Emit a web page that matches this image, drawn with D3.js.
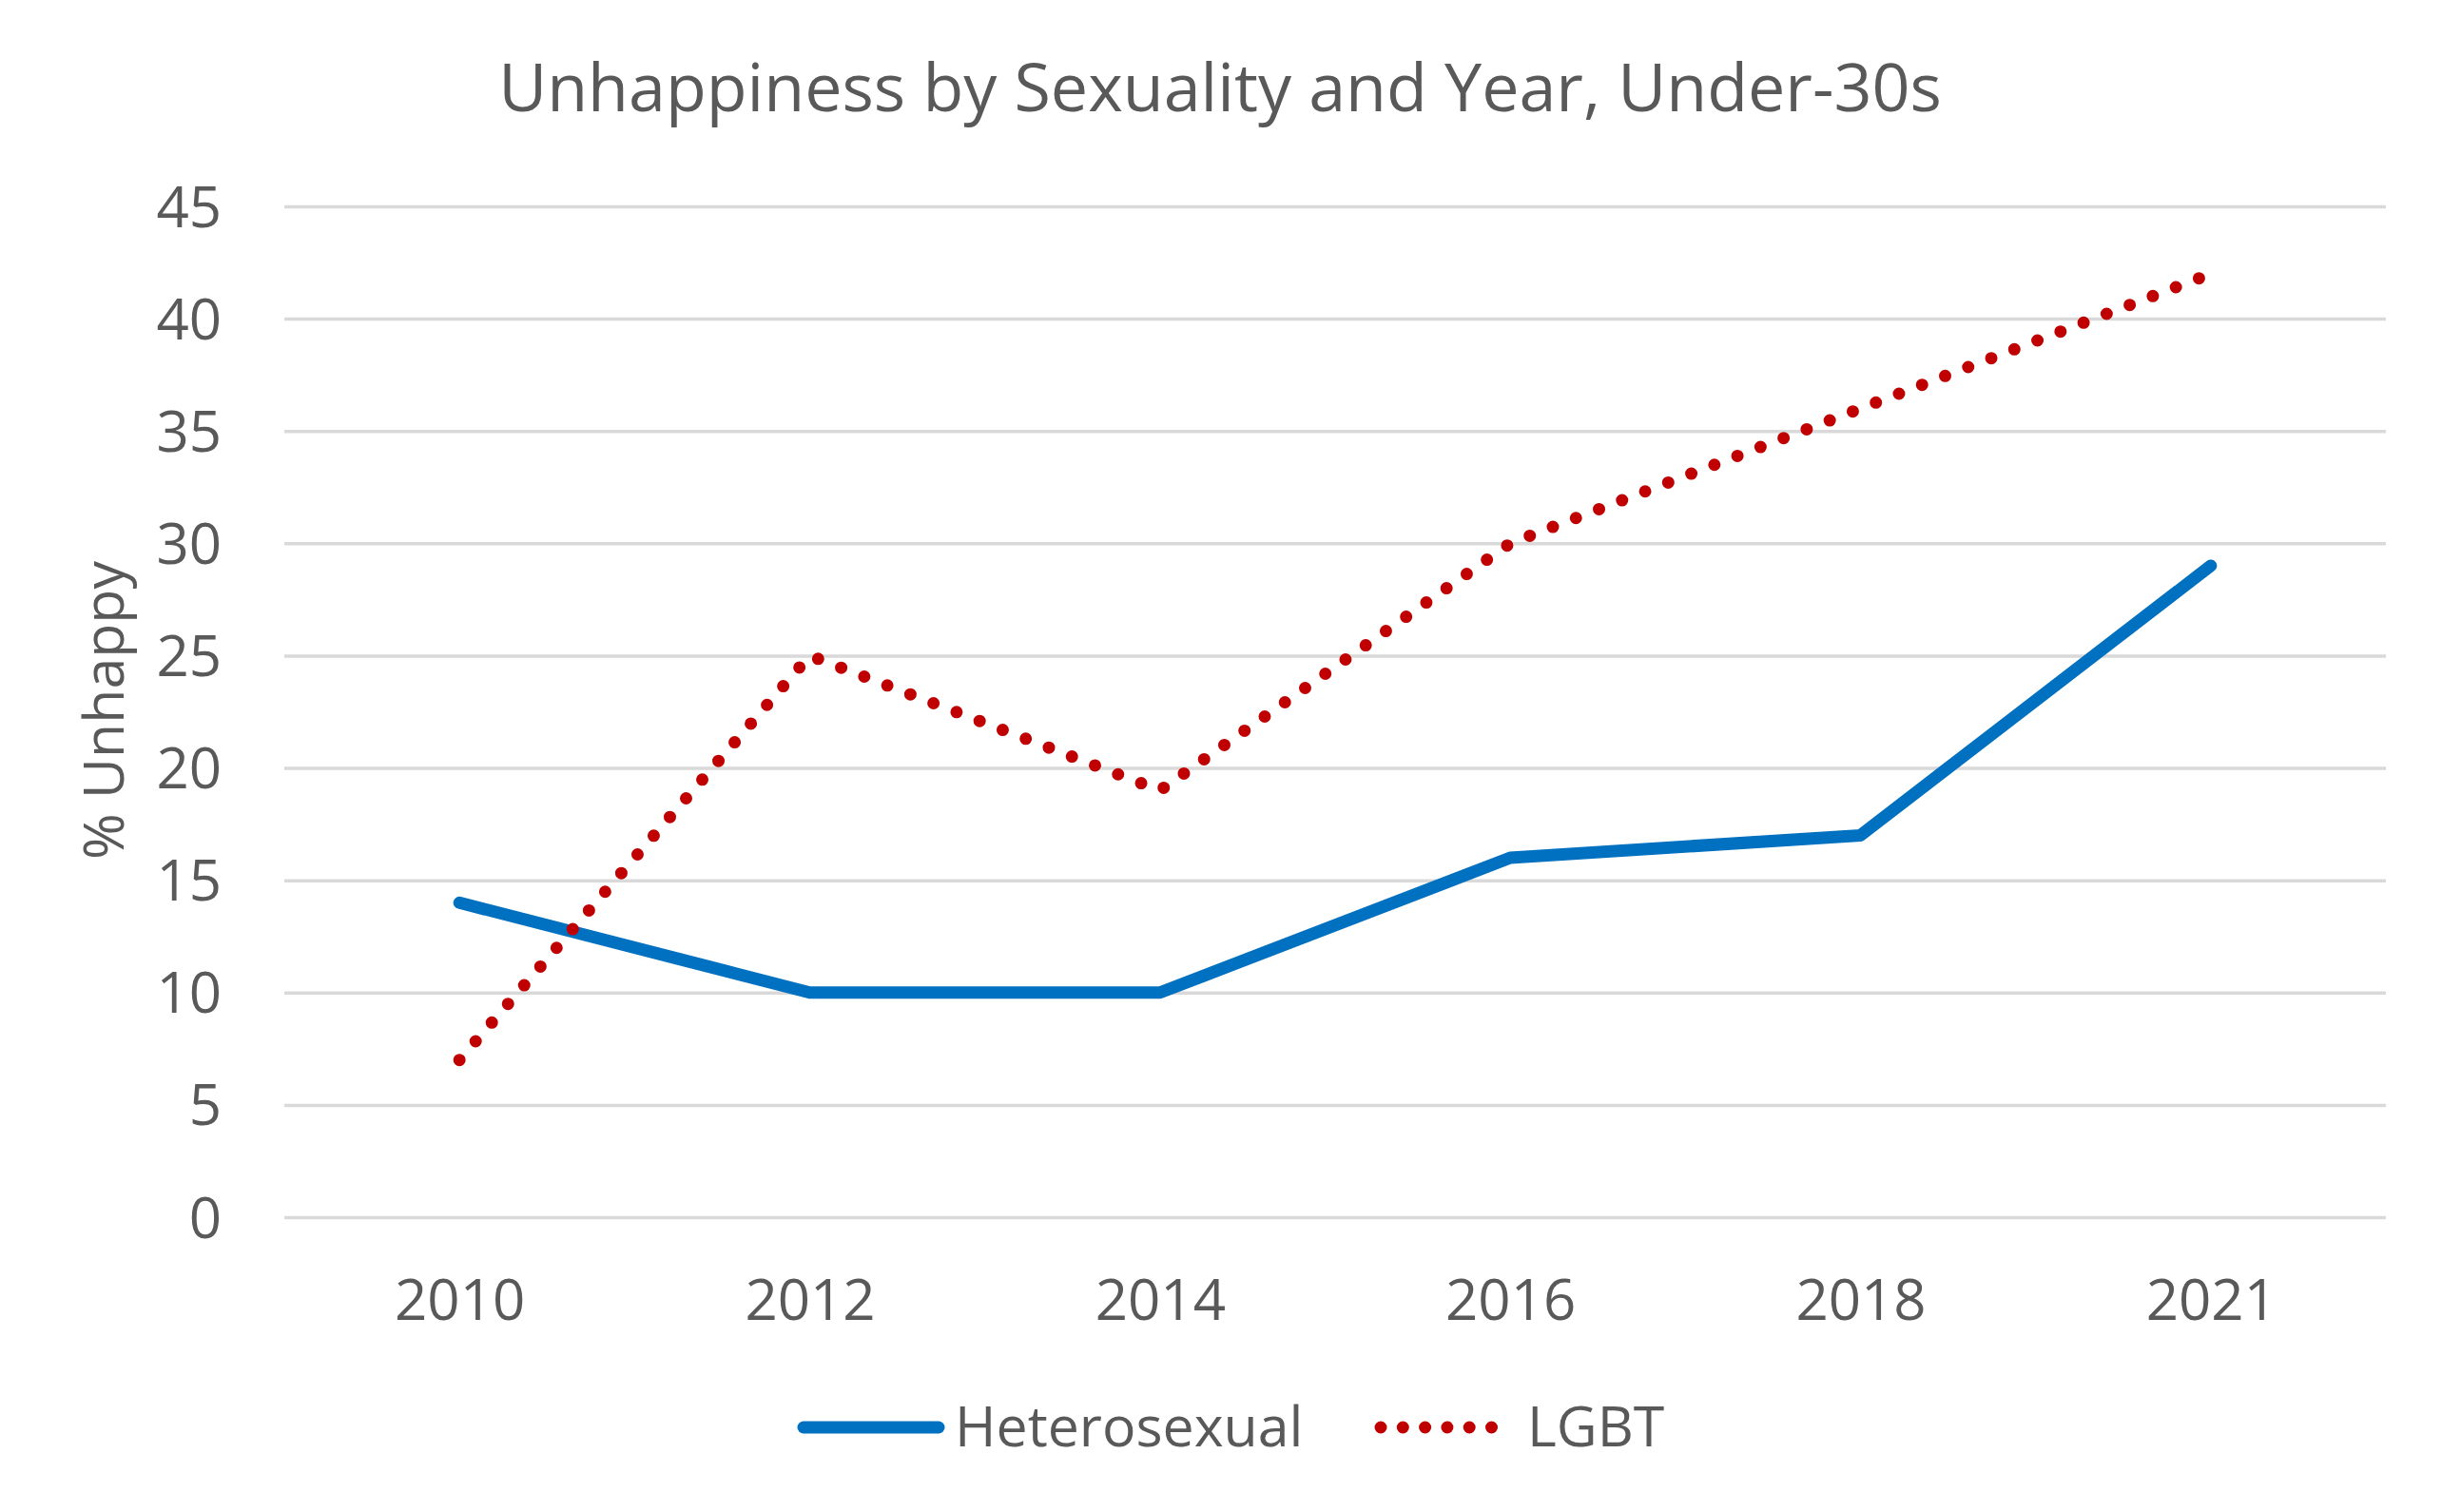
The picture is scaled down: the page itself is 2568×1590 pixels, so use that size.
<!DOCTYPE html>
<html>
<head>
<meta charset="utf-8">
<script src="https://cdn.jsdelivr.net/npm/d3@7"></script>
<style>
  html, body { margin: 0; padding: 0; background: #fff; }
  text { font-family: "Open Sans", sans-serif; fill: #595959; }
</style>
</head>
<body>
<div id="chart"></div>
<script>
// chart values
var years = ['2010', '2012', '2014', '2016', '2018', '2021'];
var heterosexual = [14, 10, 10, 16, 17, 29];
var lgbt = [7, 25, 19, 30, 36, 42];
var yTicks = [0, 5, 10, 15, 20, 25, 30, 35, 40, 45];
var seriesNames = ['Heterosexual', 'LGBT'];

var width = 2568,
    height = 1590,
    plot = { left: 299, right: 2509, top: 217, bottom: 1280 };

var svg = d3.select('#chart').append('svg')
    .attr('width', width)
    .attr('height', height);

var x = d3.scalePoint()
    .domain(years)
    .range([plot.left, plot.right])
    .padding(0.5);

var y = d3.scaleLinear()
    .domain([0, 45])
    .range([plot.bottom, plot.top]);

/* gridlines + y tick labels */
var yAxis = svg.append('g')
    .attr('transform', 'translate(' + plot.left + ',0)')
    .call(d3.axisLeft(y).tickValues(yTicks).tickSize(-(plot.right - plot.left)).tickPadding(66));

yAxis.select('.domain').remove();
yAxis.selectAll('.tick line')
    .attr('stroke', '#d9d9d9')
    .attr('stroke-width', 3.5);
yAxis.selectAll('.tick text')
    .attr('font-size', 60)
    .attr('dy', '0.35em')
    .attr('fill', '#595959');

/* x labels, no axis line */
var xAxis = svg.append('g')
    .attr('transform', 'translate(0,' + plot.bottom + ')')
    .call(d3.axisBottom(x).tickSize(0).tickPadding(0));

xAxis.select('.domain').remove();
xAxis.selectAll('.tick text')
    .attr('font-size', 60)
    .attr('dy', 108)
    .attr('fill', '#595959');

var line = d3.line()
    .x(function(d, i) { return x(years[i]); })
    .y(function(d) { return y(d); });

svg.append('path')
    .datum(heterosexual)
    .attr('d', line)
    .attr('fill', 'none')
    .attr('stroke', '#0070c0')
    .attr('stroke-width', 13)
    .attr('stroke-linejoin', 'round')
    .attr('stroke-linecap', 'round');

svg.append('path')
    .datum(lgbt)
    .attr('d', line)
    .attr('fill', 'none')
    .attr('stroke', '#c00000')
    .attr('stroke-width', 13)
    .attr('stroke-linecap', 'round')
    .attr('stroke-dasharray', '0 26');

/* title */
svg.append('text')
    .attr('x', 1283)
    .attr('y', 117)
    .attr('text-anchor', 'middle')
    .attr('font-size', 70)
    .text('Unhappiness by Sexuality and Year, Under-30s');

/* y axis title */
svg.append('text')
    .attr('transform', 'translate(130,747) rotate(-90)')
    .attr('text-anchor', 'middle')
    .attr('font-size', 59)
    .text('% Unhappy');

/* legend */
var legend = svg.append('g').attr('transform', 'translate(0,1501)');

legend.append('line')
    .attr('x1', 845).attr('x2', 987)
    .attr('stroke', '#0070c0')
    .attr('stroke-width', 13)
    .attr('stroke-linecap', 'round');

legend.append('text')
    .attr('x', 1004)
    .attr('y', 20)
    .attr('font-size', 59)
    .text(seriesNames[0]);

legend.append('line')
    .attr('x1', 1452).attr('x2', 1570)
    .attr('stroke', '#c00000')
    .attr('stroke-width', 13)
    .attr('stroke-linecap', 'round')
    .attr('stroke-dasharray', '0 23.3');

legend.append('text')
    .attr('x', 1606)
    .attr('y', 20)
    .attr('font-size', 59)
    .text(seriesNames[1]);
</script>
</body>
</html>
